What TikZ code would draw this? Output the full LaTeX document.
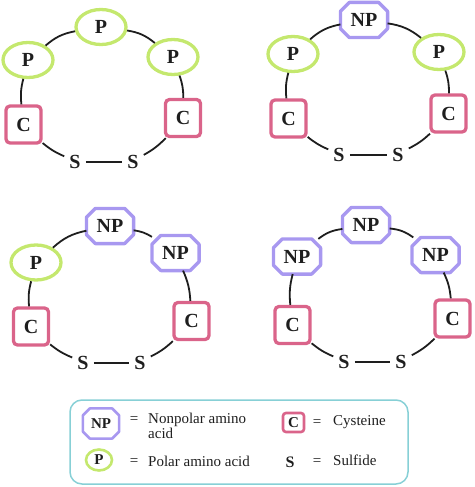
\documentclass[tikz,border=0pt]{standalone}
\usepackage{fontspec}
\setmainfont{Liberation Serif}
\usetikzlibrary{shapes.geometric}
\definecolor{pgreen}{RGB}{196,232,110}
\definecolor{cpink}{RGB}{218,100,138}
\definecolor{npurple}{RGB}{168,152,240}
\definecolor{lteal}{RGB}{135,208,214}
\definecolor{ink}{RGB}{30,30,30}
\tikzset{
  x=1pt,y=-1pt,
  lab/.style={font=\bfseries\fontsize{20}{20}\selectfont, text=ink, inner sep=0pt},
  pnode/.style={lab, ellipse, draw=pgreen, line width=3.3pt, minimum width=50pt, minimum height=35pt},
  cnode/.style={lab, rectangle, rounded corners=4pt, draw=cpink, line width=3.3pt, minimum width=35pt, minimum height=37pt},
  npnode/.style={lab, rectangle, minimum width=44pt, minimum height=32pt, outer sep=1.6pt},
  octline/.style={draw=npurple, line width=3.3pt, line join=round},
  snode/.style={lab, inner sep=5pt},
  link/.style={draw=ink, line width=1.8pt},
  lgtext/.style={font=\fontsize{15}{15}\selectfont, text=ink, inner sep=0pt},
  lgp/.style={pnode, font=\bfseries\fontsize{15}{15}\selectfont, line width=2.6pt, minimum width=26pt, minimum height=21pt},
  lgc/.style={cnode, font=\bfseries\fontsize{15}{15}\selectfont, line width=2.6pt, minimum width=21pt, minimum height=19pt, rounded corners=3pt},
  lgnp/.style={npnode, font=\bfseries\fontsize{15}{15}\selectfont, minimum width=33pt, minimum height=27pt},
}
% octagon drawn round a named node: #1 node, #2 chamfer, #3 line width
\newcommand{\octround}[3]{%
  \draw[octline, line width=#3] ([xshift=#2]#1.north west) -- ([xshift=-#2]#1.north east)
    -- ([yshift=-#2]#1.north east) -- ([yshift=#2]#1.south east)
    -- ([xshift=-#2]#1.south east) -- ([xshift=#2]#1.south west)
    -- ([yshift=#2]#1.south west) -- ([yshift=-#2]#1.north west) -- cycle;}
\begin{document}
\begin{tikzpicture}
\useasboundingbox (0,0) rectangle (474,487);
% ---------- Panel 1 ----------
\node[pnode] (a-pt) at (101,27) {P};
\node[pnode] (a-pl) at (28,60) {P};
\node[pnode] (a-pr) at (173,57) {P};
\node[cnode] (a-cl) at (23.5,124.5) {C};
\node[cnode] (a-cr) at (183,118) {C};
\node[snode] (a-sl) at (75,162) {S};
\node[snode] (a-sr) at (133,162) {S};
\draw[link] (a-pt) to[bend right=15] (a-pl);
\draw[link] (a-pl) to[bend right=10] (a-cl);
\draw[link] (a-cl) to[bend right=8] (a-sl);
\draw[link] (a-sl) -- (a-sr);
\draw[link] (a-sr) to[bend right=8] (a-cr);
\draw[link] (a-cr) to[bend right=10] (a-pr);
\draw[link] (a-pr) to[bend right=15] (a-pt);
% ---------- Panel 2 ----------
\node[npnode] (b-npt) at (364,20) {NP};
\octround{b-npt}{9pt}{3.3pt}
\node[pnode] (b-pl) at (293,54) {P};
\node[pnode] (b-pr) at (439,52) {P};
\node[cnode] (b-cl) at (288.5,118.5) {C};
\node[cnode] (b-cr) at (448.5,113.5) {C};
\node[snode] (b-sl) at (339,155) {S};
\node[snode] (b-sr) at (398,155) {S};
\draw[link] (b-npt) to[bend right=15] (b-pl);
\draw[link] (b-pl) to[bend right=10] (b-cl);
\draw[link] (b-cl) to[bend right=8] (b-sl);
\draw[link] (b-sl) -- (b-sr);
\draw[link] (b-sr) to[bend right=8] (b-cr);
\draw[link] (b-cr) to[bend right=10] (b-pr);
\draw[link] (b-pr) to[bend right=15] (b-npt);
% ---------- Panel 3 ----------
\node[npnode] (c-npt) at (110,226) {NP};
\octround{c-npt}{9pt}{3.3pt}
\node[npnode] (c-npr) at (175.5,253) {NP};
\octround{c-npr}{9pt}{3.3pt}
\node[pnode] (c-pl) at (36,262.5) {P};
\node[cnode] (c-cl) at (31,326.5) {C};
\node[cnode] (c-cr) at (191.5,321) {C};
\node[snode] (c-sl) at (83,363) {S};
\node[snode] (c-sr) at (140,363) {S};
\draw[link] (c-npt) to[bend right=15] (c-pl);
\draw[link] (c-pl) to[bend right=10] (c-cl);
\draw[link] (c-cl) to[bend right=8] (c-sl);
\draw[link] (c-sl) -- (c-sr);
\draw[link] (c-sr) to[bend right=8] (c-cr);
\draw[link] (c-cr) to[bend right=10] (c-npr);
\draw[link] (c-npr) to[bend right=12] (c-npt);
% ---------- Panel 4 ----------
\node[npnode] (d-npt) at (366,225) {NP};
\octround{d-npt}{9pt}{3.3pt}
\node[npnode] (d-npl) at (297,256.5) {NP};
\octround{d-npl}{9pt}{3.3pt}
\node[npnode] (d-npr) at (435.5,255) {NP};
\octround{d-npr}{9pt}{3.3pt}
\node[cnode] (d-cl) at (292.5,325) {C};
\node[cnode] (d-cr) at (452.5,318.5) {C};
\node[snode] (d-sl) at (344,362) {S};
\node[snode] (d-sr) at (401,362) {S};
\draw[link] (d-npt) to[bend right=15] (d-npl);
\draw[link] (d-npl) to[bend right=10] (d-cl);
\draw[link] (d-cl) to[bend right=8] (d-sl);
\draw[link] (d-sl) -- (d-sr);
\draw[link] (d-sr) to[bend right=8] (d-cr);
\draw[link] (d-cr) to[bend right=10] (d-npr);
\draw[link] (d-npr) to[bend right=15] (d-npt);
% ---------- Legend ----------
\draw[draw=lteal, line width=1.5pt, rounded corners=12pt] (70,400) rectangle (408,484);
\node[lgnp] (l-np) at (101,423.5) {NP};
\octround{l-np}{7pt}{2.6pt}
\node[lgtext] (l-eq1) at (134,420) {=};
\node[lgtext, anchor=west, align=left] (l-t1) at (148,425.5) {Nonpolar amino\\acid};
\node[lgp] (l-p) at (99,460) {P};
\node[lgtext] (l-eq2) at (134,462) {=};
\node[lgtext, anchor=west] (l-t2) at (148,461) {Polar amino acid};
\node[lgc] (l-c) at (293.5,422.5) {C};
\node[lgtext] (l-eq3) at (317,423) {=};
\node[lgtext, anchor=west] (l-t3) at (333,422) {Cysteine};
\node[lgtext, font=\bfseries\fontsize{16}{16}\selectfont] (l-s) at (290,462) {S};
\node[lgtext] (l-eq4) at (317,462) {=};
\node[lgtext, anchor=west] (l-t4) at (333,460) {Sulfide};
\end{tikzpicture}
\end{document}
